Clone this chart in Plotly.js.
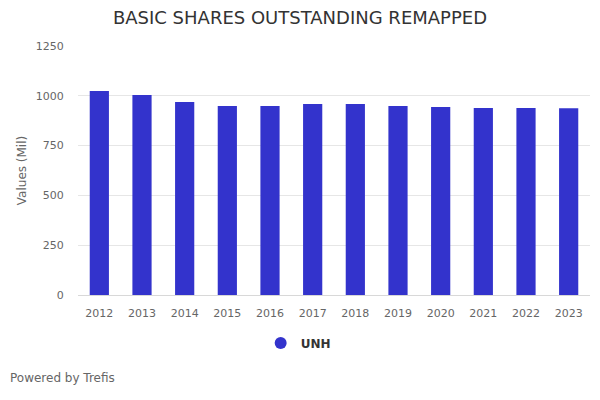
<!DOCTYPE html>
<html>
<head>
<meta charset="utf-8">
<script src="https://cdn.plot.ly/plotly-3.0.1.min.js"></script>
<style>html,body{margin:0;padding:0;background:#fff;}#chart{width:600px;height:400px;}</style>
</head>
<body>
<div id="chart"></div>
<script>
var years = ["2012","2013","2014","2015","2016","2017","2018","2019","2020","2021","2022","2023"];
var unhValues = [1024, 1004, 969, 949, 949, 959, 959, 949, 944, 939, 939, 938];
var seriesName = "UNH";
var yTicks = [0, 250, 500, 750, 1000, 1250];
var barColor = "#3333cc";

var trace = {
  type: "bar",
  x: years,
  y: unhValues,
  name: seriesName,
  marker: {color: barColor},
  width: 0.45,
  showlegend: false
};
var legendTrace = {
  type: "scatter", mode: "markers",
  x: [null], y: [null],
  name: seriesName,
  marker: {color: barColor, symbol: "circle", size: 12},
  showlegend: true
};
var layout = {
  width: 600, height: 400,
  font: {family: "DejaVu Sans, sans-serif", color: "#666"},
  title: {text: "BASIC SHARES OUTSTANDING REMAPPED", x: 0.5, xanchor: "center", y: 0.955, yanchor: "middle",
          font: {size: 18, color: "#333"}},
  margin: {l: 78, r: 10, t: 46, b: 105},
  paper_bgcolor: "#fff", plot_bgcolor: "#fff",
  xaxis: {type: "category", tickfont: {size: 11, color: "#666"}, showline: true, linecolor: "#d8d8d8",
          ticks: "outside", ticklen: 8, tickcolor: "rgba(0,0,0,0)", showgrid: false},
  yaxis: {range: [0, 1250], tickvals: yTicks, tickfont: {size: 11, color: "#666"}, gridcolor: "#e6e6e6",
          ticks: "outside", ticklen: 11, tickcolor: "rgba(0,0,0,0)",
          zeroline: false, title: {text: "Values (Mil)", font: {size: 12, color: "#666"}, standoff: 6}},
  showlegend: true,
  legend: {orientation: "h", x: 0.43, xanchor: "center", y: -0.135, yanchor: "top",
           font: {size: 12, color: "#333", family: "DejaVu Sans, sans-serif", weight: "bold"}},
  annotations: [{text: "Powered by Trefis", xref: "paper", yref: "paper", x: -0.137, y: -0.335,
                 xanchor: "left", yanchor: "middle", showarrow: false, font: {size: 12, color: "#666"}}]
};
Plotly.newPlot("chart", [trace, legendTrace], layout, {displayModeBar: false, staticPlot: true});
</script>
</body>
</html>
